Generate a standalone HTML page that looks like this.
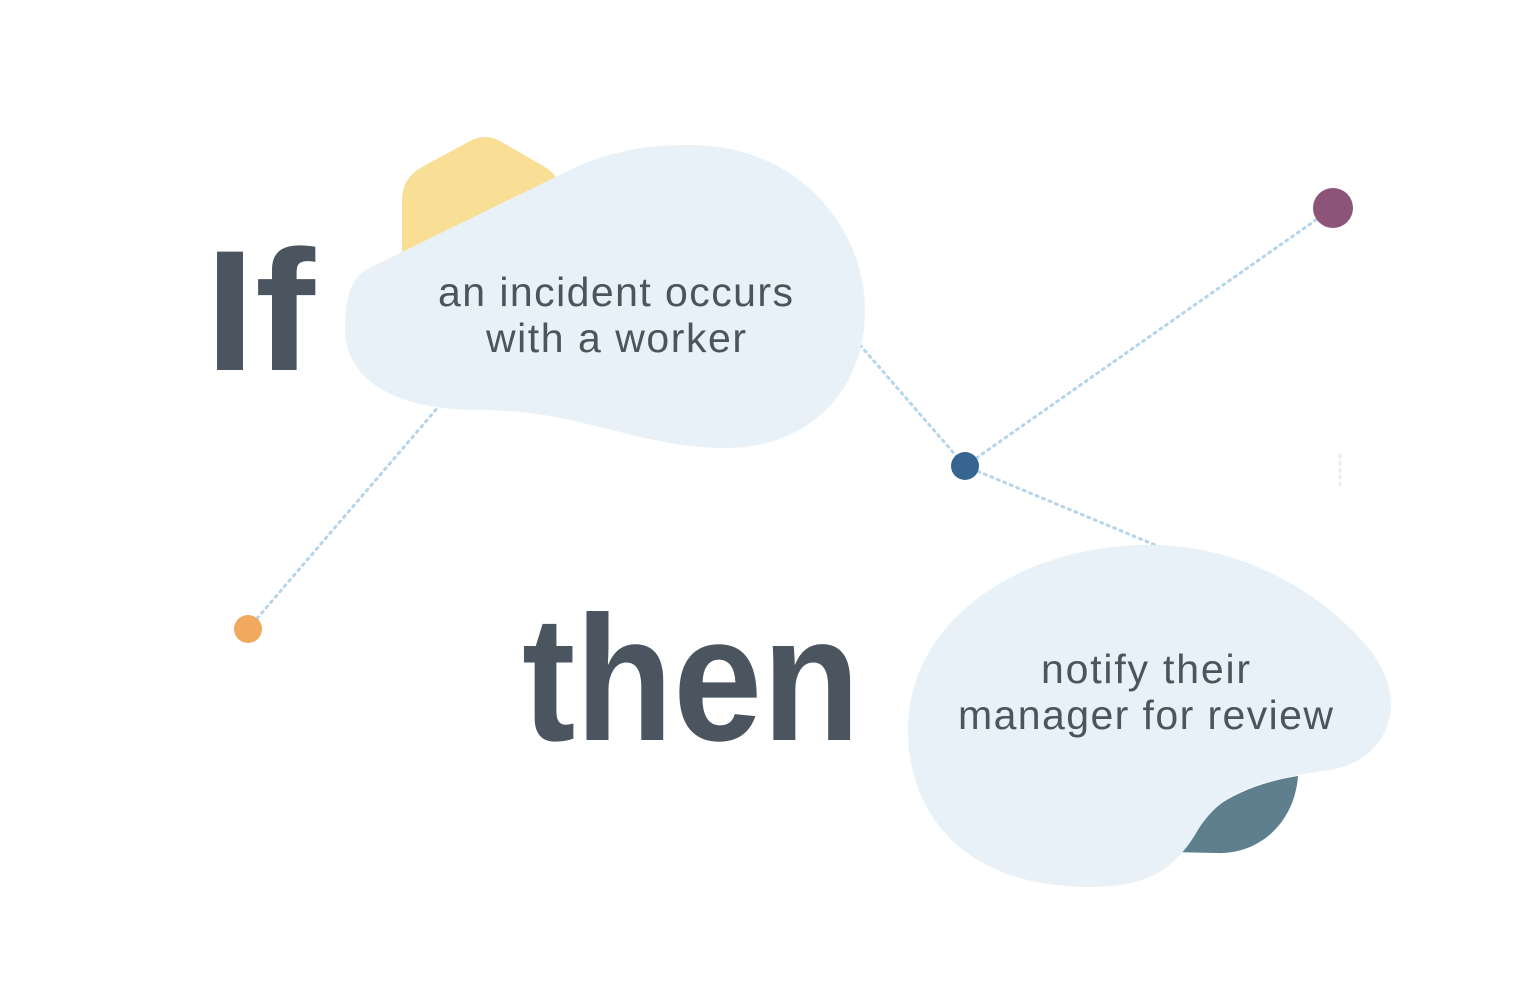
<!DOCTYPE html>
<html><head><meta charset="utf-8"><style>
html,body{margin:0;padding:0;background:#fff;}
svg{display:block}
</style></head><body>
<svg width="1536" height="991" viewBox="0 0 1536 991" xmlns="http://www.w3.org/2000/svg">
<g stroke="#b4d5ea" stroke-width="3" stroke-dasharray="2 5" stroke-linecap="round" fill="none">
<line x1="248" y1="629" x2="440" y2="405"/>
<line x1="860" y1="345" x2="965" y2="466"/>
<line x1="965" y1="466" x2="1333" y2="208"/>
<line x1="965" y1="466" x2="1160" y2="547"/>
<line x1="1340" y1="455" x2="1340" y2="487" stroke="#e4eef5"/>
</g>
<path d="M402,200 Q402,178 422,167 L470,141 Q485,133 500,141 L545,167 Q562,178 556,190 L402,260 Z" fill="#f9df96"/>
<path d="M365,270 L570,170 C610,150 650,145 690,145 C800,145 865,230 865,310 C865,390 810,448 725,448 C640,448 580,410 480,410 C380,410 345,370 345,330 C345,300 350,282 365,270 Z" fill="#e8f1f8"/>
<path d="M1172,852 C1200,810 1240,785 1298,776 C1295,820 1262,855 1215,853 Z" fill="#5e808e"/>
<path d="M1150,545 C1250,545 1330,600 1370,650 C1410,700 1390,760 1330,770 C1260,780 1220,790 1195,835 C1170,875 1140,887 1090,887 C960,887 908,810 908,730 C908,620 1020,545 1150,545 Z" fill="#e8f1f8"/>
<circle cx="248" cy="629" r="14" fill="#f0a95e"/>
<circle cx="965" cy="466" r="14" fill="#356590"/>
<circle cx="1333" cy="208" r="20" fill="#8b5478"/>
<g font-family="Liberation Sans, sans-serif" fill="#4a5560">
<text x="205" y="370" font-size="172" font-weight="bold" textLength="110" lengthAdjust="spacingAndGlyphs">If</text>
<text x="522" y="740" font-size="178" font-weight="bold" textLength="338" lengthAdjust="spacingAndGlyphs">then</text>
<g font-size="41">
<text x="438" y="306" textLength="355">an incident occurs</text>
<text x="486" y="352" textLength="260">with a worker</text>
<text x="1041" y="683" textLength="209">notify their</text>
<text x="958" y="729" textLength="375">manager for review</text>
</g>
</g>
</svg>
</body></html>
